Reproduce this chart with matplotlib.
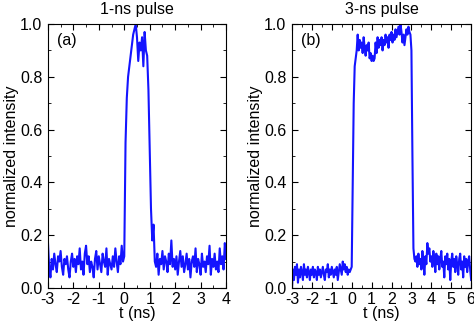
import numpy as np
import matplotlib
matplotlib.use('Agg')
import matplotlib.pyplot as plt
from matplotlib.ticker import MultipleLocator

plt.rcParams['font.family'] = ['Liberation Sans', 'DejaVu Sans']
plt.rcParams['font.size'] = 11.5
plt.rcParams['axes.unicode_minus'] = False

# Панель (a): импульс 1 нс, отсчёты через 0.05 нс
t_a = np.round(np.arange(-3, 4.001, 0.05), 2)
i_a = [
    0.18, 0.08, 0.04, 0.11, 0.07, 0.13, 0.09, 0.06, 0.12, 0.10,
    0.14, 0.08, 0.05, 0.11, 0.09, 0.12, 0.07, 0.04, 0.10, 0.13,
    0.08, 0.11, 0.06, 0.12, 0.09, 0.15, 0.07, 0.10, 0.05, 0.13,
    0.16, 0.09, 0.12, 0.06, 0.10, 0.08, 0.04, 0.11, 0.14, 0.07,
    0.12, 0.09, 0.06, 0.13, 0.10, 0.08, 0.15, 0.05, 0.11, 0.09,
    0.07, 0.12, 0.08, 0.15, 0.10, 0.06, 0.12, 0.09, 0.16, 0.10,
    0.12, 0.55, 0.72, 0.80, 0.84, 0.88, 0.92, 0.96, 0.98, 1.00,
    0.95, 0.86, 0.93, 0.90, 0.95, 0.84, 0.97, 0.90, 0.88, 0.75,
    0.52, 0.30, 0.18, 0.24, 0.10,
    0.08, 0.13, 0.05, 0.11, 0.09, 0.14, 0.07, 0.12, 0.10, 0.06,
    0.13, 0.09, 0.18, 0.08, 0.11, 0.07, 0.12, 0.05, 0.10, 0.14,
    0.08, 0.12, 0.06, 0.09, 0.13, 0.07, 0.11, 0.04, 0.10, 0.12,
    0.08, 0.15, 0.06, 0.11, 0.09, 0.05, 0.13, 0.08, 0.10, 0.06,
    0.12, 0.09, 0.16, 0.05, 0.11, 0.08, 0.13, 0.07, 0.10, 0.06,
    0.15, 0.09, 0.12, 0.07, 0.17, 0.11,
]

# Панель (b): импульс 3 нс
t_b = np.round(np.arange(-3, 6.001, 0.05), 2)
i_b = [
    0.00, 0.07, 0.03, 0.08, 0.05, 0.09, 0.02, 0.07, 0.04, 0.08,
    0.06, 0.03, 0.09, 0.05, 0.07, 0.04, 0.08, 0.06, 0.03, 0.07,
    0.05, 0.08, 0.04, 0.07, 0.06, 0.03, 0.08, 0.05, 0.07, 0.04,
    0.06, 0.08, 0.05, 0.03, 0.07, 0.06, 0.09, 0.04, 0.07, 0.05,
    0.08, 0.06, 0.04, 0.07, 0.05, 0.08, 0.03, 0.06, 0.09, 0.07,
    0.05, 0.10, 0.07, 0.09, 0.06, 0.08, 0.05, 0.07, 0.06, 0.07,
    0.08, 0.40, 0.70, 0.84, 0.87, 0.90, 0.96, 0.90, 0.94, 0.91,
    0.93, 0.89, 0.95, 0.91, 0.88, 0.92, 0.90, 0.93, 0.87, 0.89,
    0.86, 0.88, 0.86, 0.87, 0.93, 0.89, 0.95, 0.91, 0.94, 0.92,
    0.95, 0.90, 0.94, 0.92, 0.96, 0.93, 0.95, 0.91, 0.96, 0.94,
    0.97, 0.93, 0.96, 0.94, 0.98, 0.95, 0.97, 0.99, 0.96, 1.00,
    0.97, 0.93, 0.96, 0.92, 0.95, 0.98, 0.96, 0.99, 0.97, 0.96,
    0.90, 0.50, 0.15, 0.11,
    0.10, 0.12, 0.08, 0.13, 0.09, 0.11, 0.07, 0.14, 0.10, 0.05,
    0.12, 0.09, 0.17, 0.13, 0.15, 0.10, 0.12, 0.08, 0.14, 0.11,
    0.06, 0.13, 0.09, 0.12, 0.07, 0.11, 0.14, 0.08, 0.10, 0.04,
    0.12, 0.09, 0.13, 0.07, 0.11, 0.03, 0.10, 0.13, 0.08, 0.11,
    0.06, 0.12, 0.09, 0.05, 0.11, 0.13, 0.07, 0.10, 0.04, 0.12,
    0.08, 0.11, 0.06, 0.10, 0.12, 0.07, 0.03,
]

panels = [
    (t_a, i_a, '1-ns pulse', '(a)', (-3, 4)),
    (t_b, i_b, '3-ns pulse', '(b)', (-3, 6)),
]
boxes = [[0.101, 0.114, 0.376, 0.812], [0.616, 0.114, 0.378, 0.812]]

fig = plt.figure(figsize=(4.74, 3.25), dpi=100)

for (t, y, title, tag, xlim), box in zip(panels, boxes):
    ax = fig.add_axes(box)
    ax.plot(t, y, color='#1414ff', linewidth=1.5)
    ax.set_xlim(*xlim)
    ax.set_ylim(0, 1.0)
    ax.xaxis.set_major_locator(MultipleLocator(1))
    ax.xaxis.set_minor_locator(MultipleLocator(0.5))
    ax.yaxis.set_major_locator(MultipleLocator(0.2))
    ax.yaxis.set_minor_locator(MultipleLocator(0.1))
    ax.tick_params(which='both', direction='in', top=True, right=True,
                   labelsize=11.5)
    ax.tick_params(axis='y', pad=4)
    ax.tick_params(axis='x', pad=3)
    ax.tick_params(which='major', length=4)
    ax.tick_params(which='minor', length=2)
    ax.set_title(title, fontsize=11.5, pad=7)
    ax.set_xlabel('t (ns)', fontsize=11.5, labelpad=-1)
    ax.set_ylabel('normalized intensity', fontsize=11.5, labelpad=1)
    ax.text(0.05, 0.965, tag, transform=ax.transAxes, fontsize=11.5, va='top')

plt.savefig('out.png', dpi=100)
